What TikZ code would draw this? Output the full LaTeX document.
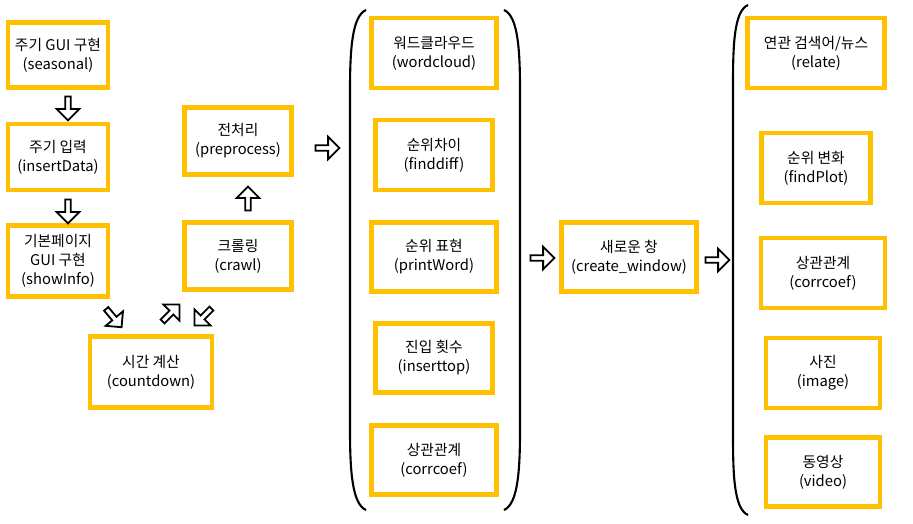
\documentclass[tikz,border=0pt]{standalone}
\usepackage{fontspec}
\setmainfont{Noto Sans CJK KR}
\usetikzlibrary{shapes.arrows}
\definecolor{boxgold}{RGB}{255,192,0}
\tikzset{
    box/.style={draw=boxgold, line width=3.5pt, fill=white, align=center, font=\fontsize{10.5}{13.5}\selectfont},
    blk/.style={single arrow, draw=black, fill=white, line width=1.3pt, minimum width=16pt, single arrow head extend=2pt, minimum height=17pt, inner sep=0pt},
    paren/.style={line width=1.5pt}
}
\begin{document}
\begin{tikzpicture}[x=0.025cm,y=-0.025cm]
    \useasboundingbox (0,0) rectangle (913,524);
    % left column
    \node[box, minimum width=2.5cm, minimum height=1.62cm] (seasonal) at (58,55) {주기 GUI 구현\\(seasonal)};
    \node[box, minimum width=2.5cm, minimum height=1.65cm] (insert) at (58,157) {주기 입력\\(insertData)};
    \node[box, minimum width=2.5cm, minimum height=1.78cm] (show) at (58,261) {기본페이지\\GUI 구현\\(showInfo)};
    \node[box, minimum width=3.05cm, minimum height=1.78cm] (count) at (151,372) {시간 계산\\(countdown)};
    \node[box, minimum width=2.68cm, minimum height=1.68cm] (crawl) at (238,256) {크롤링\\(crawl)};
    \node[box, minimum width=2.68cm, minimum height=1.68cm] (pre) at (238,141) {전처리\\(preprocess)};
    % middle group
    \node[box, minimum width=3.12cm, minimum height=1.75cm] (word) at (434,53) {워드클라우드\\(wordcloud)};
    \node[box, minimum width=2.92cm, minimum height=1.75cm] (diff) at (434,155) {순위차이\\(finddiff)};
    \node[box, minimum width=3.12cm, minimum height=1.72cm] (print) at (434,257) {순위 표현\\(printWord)};
    \node[box, minimum width=2.92cm, minimum height=1.72cm] (top) at (434,358) {진입 횟수\\(inserttop)};
    \node[box, minimum width=3.12cm, minimum height=1.72cm] (corr) at (434,460) {상관관계\\(corrcoef)};
    \node[box, minimum width=3.38cm, minimum height=1.72cm] (win) at (629,257) {새로운 창\\(create\_window)};
    % right group
    \node[box, minimum width=3.42cm, minimum height=1.75cm] (rel) at (816,53) {연관 검색어/뉴스\\(relate)};
    \node[box, minimum width=2.72cm, minimum height=1.75cm] (plot) at (816,168) {순위 변화\\(findPlot)};
    \node[box, minimum width=3.1cm, minimum height=1.75cm] (corrb) at (823,273) {상관관계\\(corrcoef)};
    \node[box, minimum width=2.85cm, minimum height=1.75cm] (img) at (823,373) {사진\\(image)};
    \node[box, minimum width=2.85cm, minimum height=1.72cm] (vid) at (823,472) {동영상\\(video)};
    % parentheses
    \draw[paren] (366,10) .. controls (352,16) and (350,50) .. (350,90) -- (350,430) .. controls (350,470) and (352,504) .. (366,510);
    \draw[paren] (504,10) .. controls (518,16) and (520,50) .. (520,90) -- (520,430) .. controls (520,470) and (518,504) .. (504,510);
    \draw[paren] (748,5) .. controls (734,11) and (733,45) .. (733,85) -- (733,435) .. controls (733,475) and (734,509) .. (748,515);
    % block arrows
    \node[blk, rotate=-90] (a1) at (68,107) {};
    \node[blk, rotate=-90] (a2) at (68,210) {};
    \node[blk, rotate=-50] (a3) at (113,317) {};
    \node[blk, rotate=45] (a4) at (170,314) {};
    \node[blk, rotate=-135] (a5) at (204,316) {};
    \node[blk, rotate=90] (a6) at (248,200) {};
    \node[blk] (a7) at (326,148) {};
    \node[blk] (a8) at (541,258) {};
    \node[blk] (a9) at (716,260) {};
\end{tikzpicture}
\end{document}
